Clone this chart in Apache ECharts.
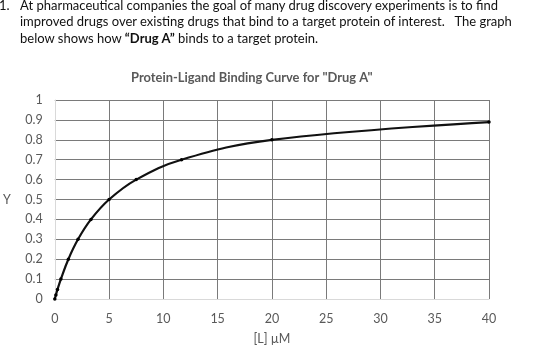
<!DOCTYPE html>
<html>
<head>
<meta charset="utf-8">
<script src="https://cdn.jsdelivr.net/npm/echarts@6/dist/echarts.min.js"></script>
<style>
  html, body { margin: 0; padding: 0; background: #fff; }
  #wrap { position: relative; width: 535px; height: 352px; overflow: hidden; }
  #main { position: absolute; left: 0; top: 0; width: 535px; height: 352px; }
  .q {
    position: absolute; left: 0; top: -3px; width: 535px;
    font-family: Lato, "Open Sans", sans-serif; font-size: 13px; line-height: 16.4px;
    color: #111;
  }
  .q .num { position: absolute; left: -1px; top: 0; }
  .q .body { margin-left: 20px; }
</style>
</head>
<body>
<div id="wrap">
  <div id="main"></div>
  <div class="q">
    <span class="num">1.</span>
    <div class="body">At pharmaceutical companies the goal of many drug discovery experiments is to find<br>
    improved drugs over existing drugs that bind to a target protein of interest.&nbsp;&nbsp; The graph<br>
    below shows how <b>“Drug A”</b> binds to a target protein.</div>
  </div>
</div>
<script>
// ligand concentration (uM) and fraction bound
const ligand = [0, 0.1, 0.25, 0.56, 1.25, 2.14, 3.33, 5, 7.5, 11.67, 20, 40];
const bound = [0, 0.02, 0.048, 0.1, 0.2, 0.3, 0.4, 0.5, 0.6, 0.7, 0.8, 0.889];

const textColor = '#595959';
const gridColor = '#7a7a7a';
const font = 'Lato, sans-serif';

const chart = echarts.init(document.getElementById('main'));
chart.setOption({
  animation: false,
  title: {
    text: 'Protein-Ligand Binding Curve for "Drug A"',
    left: 131,
    top: 71,
    padding: 0,
    textStyle: {
      fontFamily: font,
      fontSize: 12.9,
      fontWeight: 'bold',
      color: textColor,
    },
  },
  grid: {
    left: 54,
    right: 46,
    top: 100,
    bottom: 53,
    containLabel: false,
  },
  xAxis: {
    type: 'value',
    min: 0,
    max: 40,
    interval: 5,
    name: '[L] µM',
    nameLocation: 'middle',
    nameGap: 33,
    nameTextStyle: { fontFamily: font, fontSize: 12.5, color: textColor },
    axisLine: { show: true, lineStyle: { color: '#d9d9d9', width: 1 } },
    axisTick: { show: false },
    axisLabel: { margin: 13, fontFamily: font, fontSize: 12.5, color: textColor },
    splitLine: { show: true, showMinLine: false, lineStyle: { color: gridColor, width: 1 } },
  },
  yAxis: {
    type: 'value',
    min: 0,
    max: 1,
    interval: 0.1,
    name: 'Y',
    nameLocation: 'middle',
    nameRotate: 0,
    nameGap: 44,
    nameTextStyle: { fontFamily: font, fontSize: 12.5, color: textColor },
    axisLine: { show: true, lineStyle: { color: '#d9d9d9', width: 1 } },
    axisTick: { show: false },
    axisLabel: {
      margin: 12,
      fontFamily: font,
      fontSize: 12.5,
      color: textColor,
      formatter: v => String(Math.round(v * 10) / 10),
    },
    splitLine: { show: true, showMinLine: false, lineStyle: { color: gridColor, width: 1 } },
  },
  series: [
    {
      type: 'line',
      data: ligand.map((x, i) => [x, bound[i]]),
      smooth: 0.4,
      symbol: 'circle',
      symbolSize: 3.5,
      itemStyle: { color: '#000' },
      lineStyle: { color: '#111', width: 2.2 },
    },
  ],
});
</script>
</body>
</html>
